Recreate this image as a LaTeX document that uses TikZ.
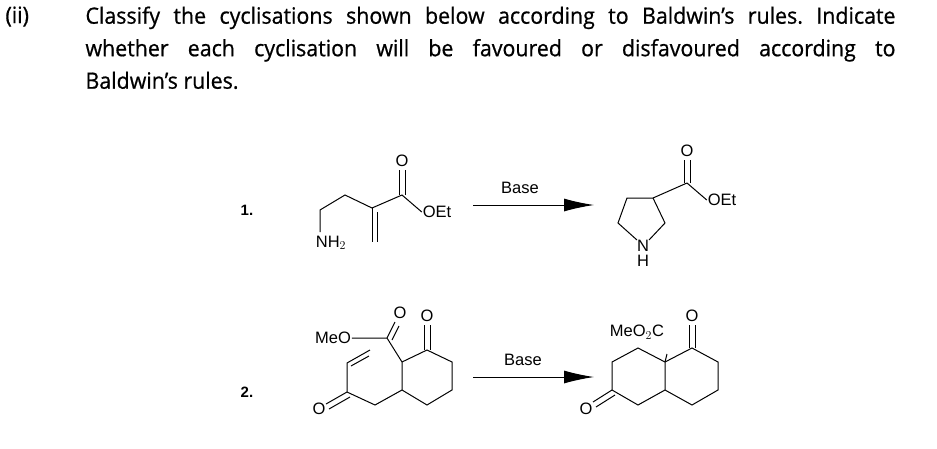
\documentclass[tikz,border=0pt]{standalone}
\usepackage{fontspec}
\setmainfont{Open Sans}
\newfontfamily\qfont{Open Sans}[Ligatures=TeX,FakeStretch=0.95,UprightFeatures={FakeBold=0.7}]
\newfontfamily\arial{Liberation Sans}
\usetikzlibrary{arrows.meta}
\frenchspacing
\begin{document}
\begin{tikzpicture}[x=1pt,y=-1pt,line width=1pt,
  lab/.style={font=\arial\fontsize{16.5}{16.5}\selectfont,inner sep=0.5pt},
  bond/.style={line width=1pt},
  rxn/.style={line width=1pt,-{Latex[length=30pt,width=13pt]}},
  para/.style={font=\qfont\fontsize{22.5}{32.5}\selectfont,anchor=north west,inner sep=0pt,align=justify,text width=810pt}]
\useasboundingbox (0,0) rectangle (937,448);
\node[anchor=north west,inner sep=0pt,font=\qfont\fontsize{22.5}{32.5}\selectfont] (num) at (5,6) {(ii)};
\node[para] (q) at (85,6) {Classify the cyclisations shown below according to Baldwin's rules. Indicate\linebreak whether each cyclisation will be favoured or disfavoured according to\linebreak Baldwin's rules.};
\node[lab,font=\arial\bfseries\fontsize{15}{15}\selectfont] (one) at (247,210) {1.};
\node[lab,font=\arial\bfseries\fontsize{15}{15}\selectfont] (two) at (247,392) {2.};
% molecule 1 reactant
\node[lab] (nh2) at (331,243) {NH$_2$};
\node[lab] (o1) at (402,161) {O};
\node[lab] (oet1) at (437,212) {OEt};
\draw[bond] (320,232) -- (320,210) -- (345,195) -- (372,208) -- (402,195) -- (oet1.west);
\draw[bond] (372,208) -- (372,242);
\draw[bond] (377,212) -- (377,242);
\draw[bond] (399,195) -- (399,170);
\draw[bond] (405,195) -- (405,170);
% arrow 1
\coordinate (a1s) at (473,205); \coordinate (a1e) at (594,205);
\draw[rxn] (a1s) -- (a1e);
\node[lab] (base1) at (520,188) {Base};
% product 1
\node[lab] (n1) at (643,246) {N};
\node[lab] (h1) at (643,261) {H};
\node[lab] (o2) at (687,151) {O};
\node[lab] (oet2) at (722,200) {OEt};
\draw[bond] (637,240) -- (618,223) -- (627,198) -- (653,198) -- (665,223) -- (649,240);
\draw[bond] (687,183) -- (oet2.west);
\draw[bond] (653,198) -- (687,183);
\draw[bond] (684,183) -- (684,160);
\draw[bond] (690,183) -- (690,160);
% molecule 2 reactant
\node[lab] (meo) at (333,338) {MeO};
\node[lab] (o3) at (400,313) {O};
\node[lab] (o4) at (427,316) {O};
\node[lab] (o5) at (319,409) {O};
\draw[bond] (427,350) -- (452,362) -- (452,390) -- (427,405) -- (402,390) -- (402,362) -- cycle;
\draw[bond] (424,350) -- (424,325);
\draw[bond] (430,350) -- (430,325);
\draw[bond] (402,362) -- (387,338) -- (meo.east);
\draw[bond] (387,338) -- (395,322);
\draw[bond] (392,340) -- (399,326);
\draw[bond] (402,390) -- (375,405) -- (347,392) -- (347,363) -- (370,350);
\draw[bond] (351,366) -- (369,356);
\draw[bond] (347,392) -- (326,404);
\draw[bond] (350,397) -- (329,409);
% arrow 2
\coordinate (a2s) at (473,377); \coordinate (a2e) at (594,377);
\draw[rxn] (a2s) -- (a2e);
\node[lab] (base2) at (523,360) {Base};
% product 2
\node[lab] (co2me) at (637,332) {MeO$_2$C};
\node[lab] (o6) at (692,316) {O};
\node[lab] (o7) at (586,409) {O};
\draw[bond] (665,362) -- (692,348) -- (718,362) -- (718,390) -- (692,405) -- (665,390) -- cycle;
\draw[bond] (665,362) -- (638,348) -- (612,362) -- (612,390) -- (638,405) -- (665,390);
\draw[bond] (665,362) -- (667,354);
\draw[bond] (689,348) -- (689,325);
\draw[bond] (695,348) -- (695,325);
\draw[bond] (612,390) -- (593,402);
\draw[bond] (615,395) -- (596,407);
\end{tikzpicture}
\end{document}
